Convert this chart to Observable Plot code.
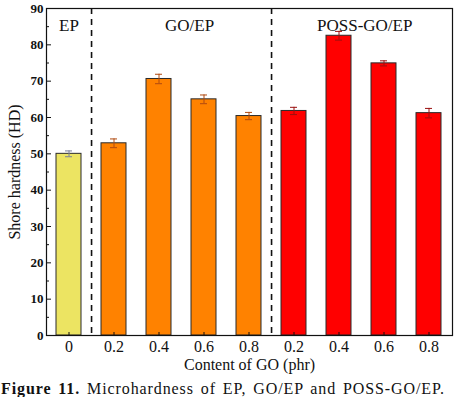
<!DOCTYPE html>
<html>
<head>
<meta charset="utf-8">
<script src="https://cdn.jsdelivr.net/npm/d3@7"></script>
<script src="https://cdn.jsdelivr.net/npm/@observablehq/plot@0.6"></script>
<style>
  html, body { margin: 0; padding: 0; background: #fff; overflow: hidden; }
  #chart svg { display: block; }
  #caption { font-family: "Liberation Serif", "Times New Roman", serif; font-size: 16px; line-height: 16px; margin: 3px 0 0 1px; white-space: nowrap; color: #111; letter-spacing: 0.9px; word-spacing: 2px; }
</style>
</head>
<body>
<div id="chart"></div>
<div id="caption"><b>Figure 11.</b> Microhardness of EP, GO/EP and POSS-GO/EP.</div>
<script>
// ---- data ----
const keys = ["EP-0", "GO-0.2", "GO-0.4", "GO-0.6", "GO-0.8", "POSS-0.2", "POSS-0.4", "POSS-0.6", "POSS-0.8"];
const tickLabels = ["0", "0.2", "0.4", "0.6", "0.8", "0.2", "0.4", "0.6", "0.8"];
const groups = ["EP", "GO/EP", "GO/EP", "GO/EP", "GO/EP", "POSS-GO/EP", "POSS-GO/EP", "POSS-GO/EP", "POSS-GO/EP"];
const hardness = [50.0, 52.9, 70.6, 65.0, 60.4, 61.8, 82.5, 74.9, 61.2];
const errors = [0.8, 1.2, 1.3, 1.2, 1.0, 1.0, 1.2, 0.7, 1.3];
const groupLabels = ["EP", "GO/EP", "POSS-GO/EP"];
const groupLabelKeys = ["EP-0", "GO-0.6", "POSS-0.6"];
const separatorKeys = ["EP-0", "GO-0.8"];
const yTicks = [0, 10, 20, 30, 40, 50, 60, 70, 80, 90];
const yMinorTicks = [5, 15, 25, 35, 45, 55, 65, 75, 85];

// ---- styles ----
const fillColors = {"EP": "#ece462", "GO/EP": "#ff8200", "POSS-GO/EP": "#ff0000"};
const errColors = {"EP": "#7a7f99", "GO/EP": "#b04a10", "POSS-GO/EP": "#9a1010"};
const labelDx = [0, -14.4, -19.3];

const data = keys.map((k, i) => ({key: k, group: groups[i], v: hardness[i], e: errors[i]}));

const W = 474, H = 378;
const mL = 46, mR = 22, mT = 8, mB = 43;
const step = (W - mL - mR) / keys.length;
const serif = "Liberation Serif, Times New Roman, serif";

const labelMarks = groupLabels.map((g, i) =>
  Plot.text([g], {x: () => groupLabelKeys[i], y: 85.2, text: d => d, dx: labelDx[i], fontSize: 17, fill: "#111"})
);

const plot = Plot.plot({
  width: W,
  height: H,
  marginLeft: mL,
  marginRight: mR,
  marginTop: mT,
  marginBottom: mB,
  style: {fontFamily: serif, color: "#111", background: "#fff"},
  x: {type: "band", domain: keys, paddingInner: 0.44, paddingOuter: 0.22},
  y: {domain: [0, 90]},
  color: {type: "identity"},
  marks: [
    Plot.barY(data, {x: "key", y: "v", fill: d => fillColors[d.group], stroke: "#2a2a2a", strokeWidth: 1}),
    Plot.ruleX(data, {x: "key", y1: d => d.v - d.e, y2: d => d.v + d.e, stroke: d => errColors[d.group], strokeWidth: 1}),
    Plot.tickY(data, {x: "key", y: d => d.v + d.e, stroke: d => errColors[d.group], strokeWidth: 1, inset: 9}),
    Plot.tickY(data, {x: "key", y: d => d.v - d.e, stroke: d => errColors[d.group], strokeWidth: 1, inset: 9}),
    Plot.ruleX(separatorKeys, {x: d => d, dx: step / 2, stroke: "#111", strokeWidth: 1.6, strokeDasharray: "6,5"}),
    ...labelMarks,
    Plot.axisY(yTicks, {tickSize: -5, fontSize: 13, fontWeight: "bold", tickPadding: 8, label: null}),
    Plot.axisY(yMinorTicks, {tickSize: -3, tickFormat: () => "", fontSize: 16, label: "Shore hardness (HD)", labelAnchor: "center", labelArrow: "none", labelOffset: 38}),
    Plot.axisX(keys, {tickSize: -3, fontSize: 16, tickPadding: 8, tickFormat: (d) => tickLabels[keys.indexOf(d)], label: "Content of GO (phr)", labelAnchor: "center", labelArrow: "none", labelOffset: 34}),
    Plot.frame({stroke: "#111", strokeWidth: 1.2})
  ]
});
document.getElementById("chart").appendChild(plot);
</script>
</body>
</html>
